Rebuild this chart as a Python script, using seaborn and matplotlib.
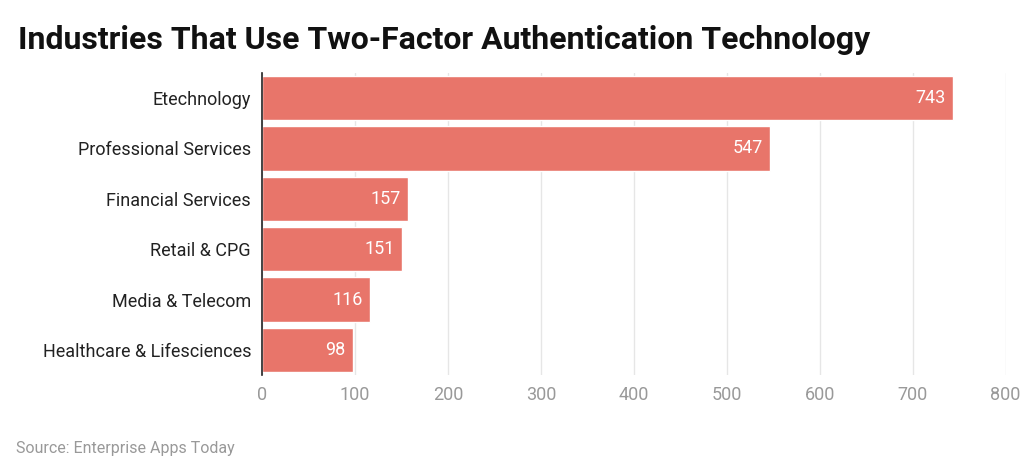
import matplotlib
matplotlib.use("Agg")
import matplotlib.pyplot as plt
import seaborn as sns
import pandas as pd

categories = ["Etechnology", "Professional Services", "Financial Services",
              "Retail & CPG", "Media & Telecom", "Healthcare & Lifesciences"]
values = [743, 547, 157, 151, 116, 98]
xticks = [0, 100, 200, 300, 400, 500, 600, 700, 800]

sns.set_theme(style="white")
plt.rcParams['font.family'] = ['Roboto', 'DejaVu Sans']

df = pd.DataFrame({"industry": categories, "count": values})
fig = plt.figure(figsize=(10.24, 4.76), dpi=100)
ax = fig.add_axes([0.256, 0.212, 0.726, 0.635])
sns.barplot(data=df, y="industry", x="count", color="#E8756A", saturation=1,
            width=0.88, ax=ax)
ax.set_xlim(0, 800)
ax.set_xticks(xticks)
ax.xaxis.grid(True, color="#e6e6e6", linewidth=1)
ax.set_axisbelow(True)
for s in ["top", "right", "bottom"]:
    ax.spines[s].set_visible(False)
ax.spines["left"].set_color("#222222")
ax.spines["left"].set_linewidth(1.2)
ax.set_xlabel("")
ax.set_ylabel("")
ax.tick_params(axis="x", colors="#999999", labelsize=13, length=0, pad=8)
ax.tick_params(axis="y", colors="#222222", labelsize=13, length=0, pad=8)
for p, v in zip(ax.patches, values):
    ax.text(p.get_width() - 8, p.get_y() + p.get_height() / 2, str(v),
            ha="right", va="center", color="white", fontsize=13)
fig.text(0.018, 0.915, "Industries That Use Two-Factor Authentication Technology",
         fontsize=23, fontweight="bold", color="#111111", va="center")
fig.text(0.016, 0.058, "Source: Enterprise Apps Today", fontsize=11.5,
         color="#999999", va="center")
fig.savefig("out.png", dpi=100)
